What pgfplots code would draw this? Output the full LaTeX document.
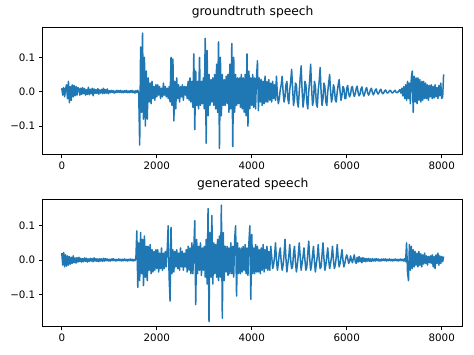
\documentclass[border=0pt]{standalone}
\usepackage{fontspec}
\setmainfont{DejaVu Sans}
\usepackage{pgfplots}
\usepackage{pgfplotstable}
\pgfplotsset{compat=1.18}
\definecolor{c0}{HTML}{1F77B4}

\pgfplotstableread[row sep=\\, header=false]{
0.01\\ -0.01\\ 0.012\\ -0.015\\ 0.008\\ 0.02\\ -0.02\\ 0.03\\ -0.032\\ 0.015\\
-0.025\\ 0.02\\ -0.015\\ 0.018\\ -0.012\\ 0.015\\ -0.01\\ 0.012\\ 0.008\\ -0.01\\
0.01\\ -0.008\\ 0.012\\ -0.006\\ 0.009\\ -0.01\\ 0.006\\ -0.008\\ 0.013\\ -0.009\\
0.007\\ -0.006\\ 0.01\\ -0.012\\ 0.008\\ -0.005\\ 0.006\\ -0.005\\ 0.009\\ -0.007\\
0.005\\ -0.004\\ 0.007\\ -0.006\\ 0.01\\ -0.005\\ 0.006\\ -0.004\\ 0.008\\ -0.006\\
0.003\\ -0.003\\ 0.004\\ -0.002\\ 0.003\\ -0.004\\ 0.002\\ -0.003\\ 0.004\\ -0.002\\
0.003\\ -0.002\\ 0.004\\ -0.003\\ 0.002\\ -0.003\\ 0.003\\ -0.002\\ 0.004\\ -0.003\\
0.002\\ -0.003\\ 0.003\\ -0.002\\ 0.004\\ -0.003\\ 0.002\\ -0.004\\ 0.003\\ -0.002\\
0.004\\ -0.005\\ -0.155\\ 0.13\\ -0.06\\ 0.17\\ -0.08\\ 0.1\\ -0.1\\ 0.06\\
-0.08\\ 0.04\\ -0.03\\ 0.025\\ -0.035\\ 0.03\\ -0.02\\ 0.015\\ -0.025\\ 0.02\\
-0.015\\ 0.02\\ -0.01\\ 0.015\\ -0.02\\ 0.01\\ -0.015\\ 0.025\\ -0.01\\ 0.015\\
-0.015\\ 0.01\\ -0.02\\ 0.015\\ -0.03\\ 0.1\\ -0.04\\ 0.095\\ -0.085\\ 0.03\\
-0.05\\ 0.04\\ -0.02\\ 0.02\\ -0.03\\ 0.015\\ -0.015\\ 0.02\\ -0.025\\ 0.015\\
-0.01\\ 0.015\\ -0.02\\ 0.03\\ -0.025\\ 0.04\\ -0.03\\ 0.03\\ -0.045\\ 0.11\\
-0.11\\ 0.06\\ -0.04\\ 0.03\\ -0.05\\ 0.1\\ -0.04\\ 0.03\\ -0.035\\ 0.04\\
-0.05\\ 0.155\\ -0.15\\ 0.12\\ -0.07\\ 0.05\\ -0.04\\ 0.035\\ -0.03\\ 0.04\\
-0.04\\ 0.05\\ -0.05\\ 0.08\\ -0.06\\ 0.145\\ -0.165\\ 0.1\\ -0.07\\ 0.05\\
-0.04\\ 0.035\\ -0.04\\ 0.045\\ -0.035\\ 0.05\\ -0.06\\ 0.08\\ -0.05\\ 0.14\\
-0.16\\ 0.1\\ -0.06\\ 0.05\\ -0.04\\ 0.04\\ -0.035\\ 0.04\\ -0.045\\ 0.05\\
-0.05\\ 0.04\\ -0.06\\ 0.05\\ -0.07\\ 0.11\\ -0.1\\ 0.06\\ -0.05\\ 0.04\\
-0.04\\ 0.05\\ -0.045\\ 0.04\\ -0.05\\ 0.04\\ 0.09\\ -0.055\\ 0.04\\ -0.03\\
0.035\\ -0.04\\ 0.03\\ -0.035\\ 0.045\\ -0.03\\ 0.03\\ -0.03\\ 0.035\\ -0.025\\
0.025\\ -0.03\\ 0.03\\ -0.02\\ 0.02\\ -0.025\\ 0.045\\ -0.01\\ -0.035\\ -0.02\\
0.005\\ 0.02\\ 0.045\\ 0.0\\ -0.03\\ -0.015\\ 0.02\\ 0.03\\ -0.02\\ -0.035\\
0.005\\ 0.03\\ 0.065\\ 0.01\\ -0.04\\ -0.02\\ 0.025\\ 0.02\\ -0.03\\ -0.045\\
0.0\\ 0.04\\ 0.075\\ 0.005\\ -0.045\\ -0.02\\ 0.03\\ 0.02\\ -0.03\\ -0.05\\
0.0\\ 0.035\\ 0.08\\ 0.01\\ -0.04\\ -0.025\\ 0.03\\ 0.015\\ -0.035\\ -0.045\\
0.005\\ 0.03\\ 0.07\\ 0.0\\ -0.04\\ -0.02\\ 0.025\\ 0.015\\ -0.03\\ -0.04\\
0.0\\ 0.025\\ 0.05\\ 0.0\\ -0.03\\ -0.015\\ 0.02\\ 0.01\\ -0.025\\ -0.03\\
0.0\\ 0.02\\ 0.035\\ 0.0\\ -0.025\\ -0.01\\ 0.015\\ 0.01\\ -0.02\\ -0.02\\
0.01\\ 0.018\\ -0.005\\ -0.015\\ -0.008\\ 0.012\\ 0.015\\ -0.004\\ -0.014\\ -0.006\\
0.01\\ 0.016\\ -0.003\\ -0.012\\ -0.007\\ 0.008\\ 0.014\\ -0.004\\ -0.013\\ -0.005\\
0.007\\ 0.012\\ -0.003\\ -0.01\\ -0.004\\ 0.006\\ 0.01\\ -0.002\\ -0.009\\ -0.004\\
0.005\\ 0.008\\ -0.002\\ -0.007\\ -0.003\\ 0.004\\ 0.007\\ -0.002\\ -0.006\\ -0.003\\
0.003\\ 0.005\\ -0.002\\ -0.004\\ -0.002\\ 0.003\\ 0.004\\ -0.001\\ -0.004\\ -0.002\\
0.002\\ 0.004\\ -0.002\\ -0.003\\ -0.001\\ 0.003\\ 0.006\\ -0.004\\ 0.01\\ -0.012\\
0.015\\ -0.02\\ 0.02\\ -0.025\\ 0.03\\ -0.02\\ 0.025\\ -0.035\\ 0.04\\ 0.06\\
-0.06\\ 0.045\\ -0.03\\ 0.04\\ -0.035\\ 0.04\\ -0.025\\ 0.035\\ -0.03\\ 0.03\\
-0.025\\ 0.03\\ -0.02\\ 0.025\\ -0.02\\ 0.02\\ -0.025\\ 0.018\\ -0.015\\ 0.02\\
-0.02\\ 0.015\\ -0.018\\ 0.02\\ -0.015\\ 0.012\\ -0.02\\ 0.018\\ -0.012\\ 0.025\\
-0.02\\ -0.015\\ 0.05\\
}\gt

\pgfplotstableread[row sep=\\, header=false]{
0.02\\ -0.015\\ 0.022\\ -0.02\\ 0.015\\ -0.018\\ 0.012\\ -0.015\\ 0.01\\ -0.012\\
0.008\\ -0.01\\ 0.012\\ -0.008\\ 0.006\\ -0.009\\ 0.007\\ -0.006\\ 0.008\\ -0.005\\
0.005\\ -0.006\\ 0.004\\ -0.005\\ 0.006\\ -0.004\\ 0.005\\ -0.006\\ 0.003\\ -0.004\\
0.005\\ -0.003\\ 0.004\\ -0.005\\ 0.006\\ -0.003\\ 0.004\\ -0.004\\ 0.003\\ -0.005\\
0.004\\ -0.003\\ 0.003\\ -0.004\\ 0.005\\ -0.003\\ 0.004\\ -0.002\\ 0.003\\ -0.003\\
0.002\\ -0.003\\ 0.003\\ -0.002\\ 0.004\\ -0.002\\ 0.002\\ -0.003\\ 0.002\\ -0.002\\
0.003\\ -0.002\\ 0.002\\ -0.003\\ 0.002\\ -0.002\\ 0.003\\ -0.002\\ 0.002\\ -0.003\\
0.002\\ -0.002\\ 0.003\\ -0.002\\ 0.002\\ -0.003\\ 0.002\\ -0.002\\ 0.003\\ 0.085\\
-0.08\\ 0.05\\ -0.06\\ 0.08\\ -0.04\\ 0.06\\ -0.075\\ 0.07\\ -0.05\\ 0.04\\
-0.06\\ 0.04\\ -0.03\\ 0.045\\ -0.04\\ 0.03\\ -0.035\\ 0.025\\ -0.03\\ 0.03\\
-0.025\\ 0.03\\ -0.035\\ 0.02\\ -0.025\\ 0.035\\ -0.03\\ 0.02\\ -0.025\\ 0.025\\
-0.02\\ 0.03\\ 0.1\\ -0.05\\ -0.12\\ 0.095\\ -0.04\\ 0.03\\ -0.035\\ 0.025\\
-0.02\\ 0.03\\ -0.025\\ 0.02\\ -0.03\\ 0.035\\ -0.02\\ 0.025\\ -0.03\\ 0.02\\
-0.02\\ 0.03\\ -0.035\\ 0.04\\ -0.03\\ 0.035\\ -0.04\\ 0.05\\ -0.04\\ 0.03\\
0.115\\ -0.13\\ 0.06\\ -0.04\\ 0.04\\ -0.03\\ 0.05\\ -0.045\\ 0.035\\ -0.03\\
0.04\\ -0.05\\ 0.06\\ -0.07\\ 0.15\\ -0.18\\ 0.08\\ -0.05\\ 0.13\\ -0.07\\
0.05\\ -0.04\\ 0.045\\ -0.05\\ 0.06\\ -0.06\\ 0.07\\ -0.05\\ 0.16\\ -0.17\\
0.08\\ -0.06\\ 0.04\\ -0.035\\ 0.04\\ -0.045\\ 0.035\\ -0.04\\ 0.05\\ -0.04\\
0.04\\ -0.05\\ 0.06\\ 0.1\\ -0.105\\ 0.05\\ -0.04\\ 0.035\\ -0.04\\ 0.035\\
-0.035\\ 0.04\\ -0.03\\ 0.045\\ -0.04\\ 0.035\\ -0.045\\ 0.05\\ 0.1\\ -0.115\\
0.075\\ -0.04\\ 0.035\\ -0.04\\ 0.045\\ -0.035\\ 0.04\\ -0.035\\ 0.03\\ -0.04\\
0.035\\ -0.03\\ 0.045\\ -0.035\\ 0.03\\ -0.025\\ 0.04\\ -0.03\\ 0.025\\ -0.03\\
0.04\\ 0.01\\ -0.025\\ -0.015\\ 0.01\\ 0.05\\ 0.0\\ -0.03\\ -0.01\\ 0.02\\
0.035\\ -0.005\\ -0.03\\ -0.015\\ 0.015\\ 0.06\\ 0.005\\ -0.035\\ -0.01\\ 0.01\\
0.045\\ 0.0\\ -0.025\\ -0.02\\ 0.02\\ 0.04\\ -0.005\\ -0.035\\ -0.015\\ 0.015\\
0.05\\ 0.01\\ -0.03\\ -0.01\\ 0.01\\ 0.035\\ 0.0\\ -0.03\\ -0.02\\ 0.02\\
0.055\\ 0.005\\ -0.03\\ -0.015\\ 0.015\\ 0.04\\ -0.005\\ -0.035\\ -0.01\\ 0.01\\
0.045\\ 0.0\\ -0.025\\ -0.02\\ 0.015\\ 0.05\\ 0.005\\ -0.03\\ -0.015\\ 0.01\\
0.035\\ 0.0\\ -0.025\\ -0.01\\ 0.01\\ 0.04\\ 0.0\\ -0.025\\ -0.015\\ 0.01\\
0.045\\ 0.005\\ -0.02\\ -0.01\\ 0.01\\ 0.03\\ 0.0\\ -0.02\\ -0.01\\ 0.005\\
0.015\\ 0.005\\ -0.01\\ -0.005\\ 0.012\\ 0.0\\ -0.008\\ 0.005\\ 0.015\\ -0.005\\
-0.01\\ 0.008\\ -0.006\\ 0.01\\ -0.005\\ 0.006\\ -0.008\\ 0.007\\ -0.004\\ 0.005\\
-0.005\\ 0.004\\ -0.003\\ 0.005\\ -0.004\\ 0.003\\ -0.004\\ 0.004\\ -0.003\\ 0.003\\
-0.003\\ 0.004\\ -0.002\\ 0.003\\ -0.003\\ 0.002\\ -0.003\\ 0.003\\ -0.002\\ 0.003\\
-0.002\\ 0.003\\ -0.003\\ 0.002\\ -0.002\\ 0.003\\ -0.002\\ 0.002\\ -0.003\\ 0.002\\
-0.002\\ 0.003\\ -0.002\\ 0.002\\ -0.003\\ 0.002\\ -0.002\\ 0.003\\ -0.002\\ 0.002\\
-0.003\\ 0.004\\ -0.005\\ 0.05\\ -0.035\\ -0.06\\ 0.045\\ -0.03\\ 0.04\\ -0.025\\
0.03\\ -0.02\\ 0.025\\ -0.015\\ 0.02\\ -0.02\\ 0.025\\ -0.015\\ 0.018\\ -0.02\\
0.015\\ -0.012\\ 0.02\\ -0.01\\ 0.012\\ -0.015\\ 0.01\\ -0.008\\ 0.012\\ -0.01\\
0.015\\ -0.02\\ 0.01\\ -0.025\\ 0.015\\ -0.01\\ 0.02\\ -0.015\\ 0.012\\ -0.01\\
0.01\\ -0.005\\ 0.01\\
}\gen

\pgfplotsset{
  mpl/.style={
    scale only axis,
    width=420pt,
    xmin=-402, xmax=8442,
    axis line style={line width=0.8pt},
    tick align=outside,
    xtick pos=bottom, ytick pos=left,
    major tick length=3.6pt,
    every tick/.style={black, line width=0.8pt},
    xtick={0,2000,4000,6000,8000},
    xticklabels={0,2000,4000,6000,8000},
    ytick={-0.1,0,0.1},
    yticklabels={−0.1,0.0,0.1},
    tick label style={font=\fontsize{10.3}{12}\selectfont},
    xticklabel style={anchor=north, inner sep=0pt, yshift=-3.6pt},
    yticklabel style={anchor=east, inner sep=0pt, xshift=-3.6pt},
    title style={font=\fontsize{12.3}{14}\selectfont, at={(0.5,1)}, anchor=base, yshift=6.2pt, inner sep=0pt},
    clip=true,
  }
}

\begin{document}
\begin{tikzpicture}
\useasboundingbox (0,0) rectangle (474pt,355pt);
\begin{axis}[mpl, at={(42.7pt,200.7pt)}, anchor=south west, height=126.6pt,
  ymin=-0.182, ymax=0.186, title={groundtruth speech}]
\addplot[c0, line width=1.5pt, line join=round] table[x expr=\coordindex*20, y index=0] {\gt};
\end{axis}
\begin{axis}[mpl, at={(42.7pt,28.3pt)}, anchor=south west, height=127.4pt,
  ymin=-0.1945, ymax=0.177, title={generated speech}]
\addplot[c0, line width=1.5pt, line join=round] table[x expr=\coordindex*20, y index=0] {\gen};
\end{axis}
\end{tikzpicture}
\end{document}
